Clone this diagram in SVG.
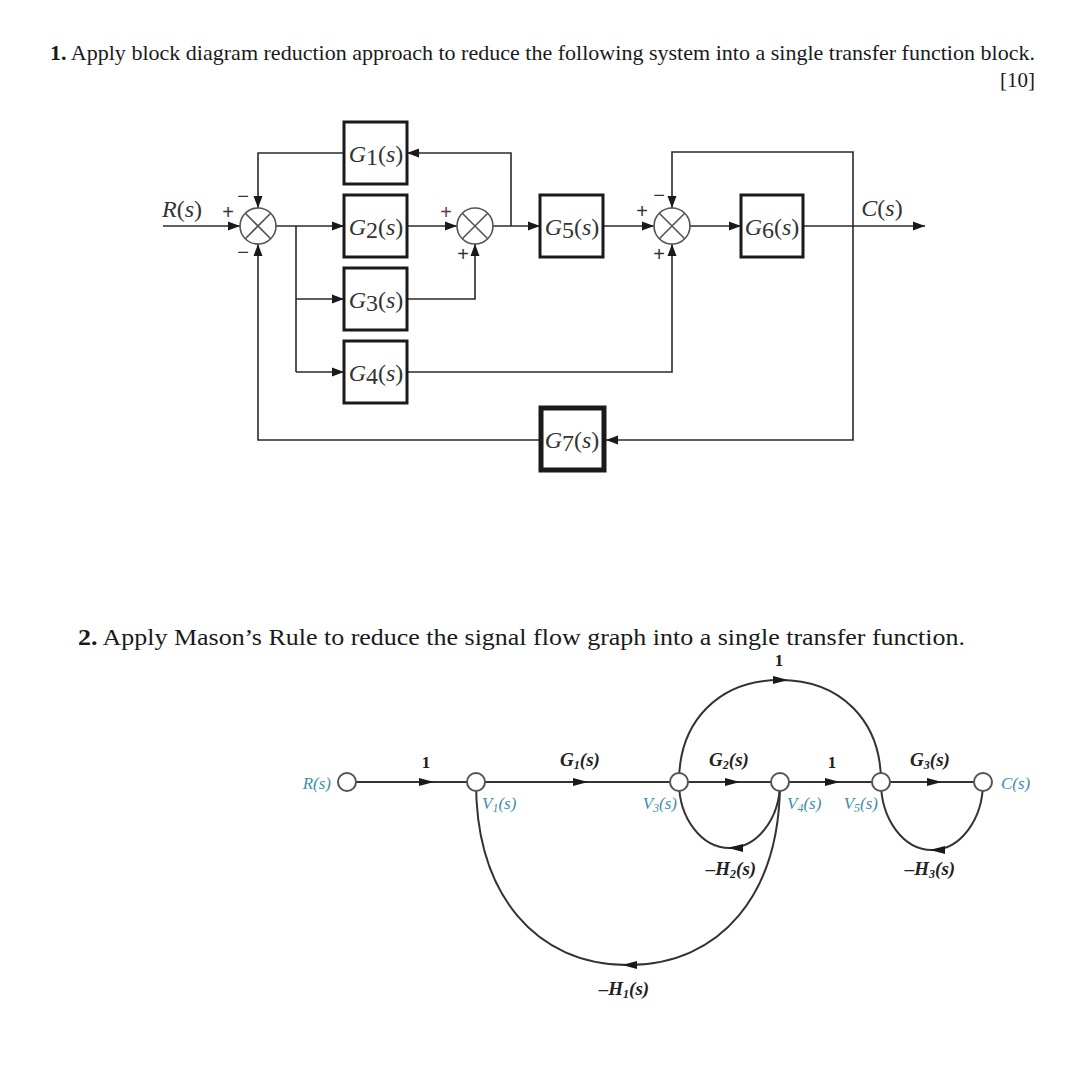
<svg xmlns="http://www.w3.org/2000/svg" xmlns:xlink="http://www.w3.org/1999/xlink" width="1080" height="1080" viewBox="0 0 1080 1080">
<style>
.bg{fill:#fff}
.t{font-family:"Liberation Serif","Times New Roman",serif;fill:#1a1a1a}
.ln{fill:none;stroke:#2a2a2a;stroke-width:1.6}
.box{fill:#fff;stroke:#1a1a1a;stroke-width:3}
.box7{fill:#fff;stroke:#1a1a1a;stroke-width:5}
.sc{fill:#fff;stroke:#555;stroke-width:1.6}
.sx{stroke:#555;stroke-width:1.6}
.bl{font-family:"Liberation Serif","Times New Roman",serif;font-style:italic;font-size:24px;fill:#333;text-anchor:middle}
.up{font-style:normal}
.sg{font-family:"Liberation Sans",Arial,sans-serif;font-size:20px;fill:#333;text-anchor:middle}
.sfg{fill:none;stroke:#333;stroke-width:2}
.nd{fill:#fff;stroke:#555;stroke-width:2}
.lb{font-family:"Liberation Serif","Times New Roman",serif;font-style:italic;font-weight:bold;font-size:19px;fill:#222;text-anchor:middle}
.one{font-family:"Liberation Serif","Times New Roman",serif;font-weight:bold;font-size:17px;fill:#222;text-anchor:middle}
.tl{font-family:"Liberation Serif","Times New Roman",serif;font-style:italic;font-size:17px;fill:#3f8faa}
.ah{fill:#1a1a1a}
</style>
<defs>
<path id="a" d="M0,0 L-12,-4.5 L-12,4.5 Z"/>
<path id="b" d="M0,0 L-15,-4 L-15,4 Z"/>
</defs>
<rect class="bg" x="0" y="0" width="1080" height="1080"/>

<g id="titles">
<text class="t" x="50" y="60" font-size="22" textLength="985" lengthAdjust="spacingAndGlyphs"><tspan font-weight="bold">1.</tspan> Apply block diagram reduction approach to reduce the following system into a single transfer function block.</text>
<text class="t" x="1035" y="87" font-size="21" text-anchor="end">[10]</text>
<text class="t" x="78" y="645" font-size="24" textLength="887" lengthAdjust="spacingAndGlyphs"><tspan font-weight="bold">2.</tspan> Apply Mason’s Rule to reduce the signal flow graph into a single transfer function.</text>
</g>

<!-- ===== Block diagram ===== -->
<g id="bd-connectors">
<path class="ln" d="M163,226 H240"/>
<path class="ln" d="M276,226 H344"/>
<path class="ln" d="M296,226 V372 M296,299 H344 M296,372 H344"/>
<path class="ln" d="M407,226 H457"/>
<path class="ln" d="M407,299 H475 V244"/>
<path class="ln" d="M493,226 H540"/>
<path class="ln" d="M511,226 V153 H407"/>
<path class="ln" d="M344,153 H258 V208"/>
<path class="ln" d="M603,226 H654"/>
<path class="ln" d="M407,372 H672 V244"/>
<path class="ln" d="M690,226 H741"/>
<path class="ln" d="M803,226 H925"/>
<path class="ln" d="M853,226 V152 H672 V208"/>
<path class="ln" d="M853,226 V440 H606"/>
<path class="ln" d="M541,440 H258 V244"/>
<g class="ah">
<use xlink:href="#a" href="#a" transform="translate(240,226)"/>
<use xlink:href="#a" href="#a" transform="translate(344,226)"/>
<use xlink:href="#a" href="#a" transform="translate(344,299)"/>
<use xlink:href="#a" href="#a" transform="translate(344,372)"/>
<use xlink:href="#a" href="#a" transform="translate(457,226)"/>
<use xlink:href="#a" href="#a" transform="translate(475,244) rotate(-90)"/>
<use xlink:href="#a" href="#a" transform="translate(540,226)"/>
<use xlink:href="#a" href="#a" transform="translate(407,153) rotate(180)"/>
<use xlink:href="#a" href="#a" transform="translate(258,208) rotate(90)"/>
<use xlink:href="#a" href="#a" transform="translate(654,226)"/>
<use xlink:href="#a" href="#a" transform="translate(672,244) rotate(-90)"/>
<use xlink:href="#a" href="#a" transform="translate(741,226)"/>
<use xlink:href="#a" href="#a" transform="translate(925,226)"/>
<use xlink:href="#a" href="#a" transform="translate(672,208) rotate(90)"/>
<use xlink:href="#a" href="#a" transform="translate(606,440) rotate(180)"/>
<use xlink:href="#a" href="#a" transform="translate(258,244) rotate(-90)"/>
</g>
</g>

<g id="sum1">
<circle class="sc" cx="258" cy="226" r="18"/>
<path class="sx" d="M245.3,213.3 L270.7,238.7 M270.7,213.3 L245.3,238.7"/>
<text class="sg" x="228" y="219">+</text>
<text class="sg" x="243" y="203">−</text>
<text class="sg" x="243" y="259">−</text>
</g>
<g id="sum2">
<circle class="sc" cx="475" cy="226" r="18"/>
<path class="sx" d="M462.3,213.3 L487.7,238.7 M487.7,213.3 L462.3,238.7"/>
<text class="sg" x="446" y="219" style="fill:#6a3060">+</text>
<text class="sg" x="463" y="261">+</text>
</g>
<g id="sum3">
<circle class="sc" cx="672" cy="226" r="18"/>
<path class="sx" d="M659.3,213.3 L684.7,238.7 M684.7,213.3 L659.3,238.7"/>
<text class="sg" x="642" y="218">+</text>
<text class="sg" x="659" y="202">−</text>
<text class="sg" x="659" y="261">+</text>
</g>

<g id="G1"><rect class="box" x="344" y="122" width="63" height="62"/><text class="bl" x="376" y="162">G<tspan class="up" dy="3">1</tspan><tspan class="up" dy="-3">(</tspan>s<tspan class="up">)</tspan></text></g>
<g id="G2"><rect class="box" x="344" y="195" width="63" height="62"/><text class="bl" x="376" y="235">G<tspan class="up" dy="3">2</tspan><tspan class="up" dy="-3">(</tspan>s<tspan class="up">)</tspan></text></g>
<g id="G3"><rect class="box" x="344" y="268" width="63" height="62"/><text class="bl" x="376" y="308">G<tspan class="up" dy="3">3</tspan><tspan class="up" dy="-3">(</tspan>s<tspan class="up">)</tspan></text></g>
<g id="G4"><rect class="box" x="344" y="341" width="63" height="62"/><text class="bl" x="376" y="381">G<tspan class="up" dy="3">4</tspan><tspan class="up" dy="-3">(</tspan>s<tspan class="up">)</tspan></text></g>
<g id="G5"><rect class="box" x="540" y="195" width="63" height="62"/><text class="bl" x="572" y="235">G<tspan class="up" dy="3">5</tspan><tspan class="up" dy="-3">(</tspan>s<tspan class="up">)</tspan></text></g>
<g id="G6"><rect class="box" x="741" y="195" width="62" height="62"/><text class="bl" x="772" y="235">G<tspan class="up" dy="3">6</tspan><tspan class="up" dy="-3">(</tspan>s<tspan class="up">)</tspan></text></g>
<g id="G7"><rect class="box7" x="541" y="408" width="63" height="62"/><text class="bl" x="572" y="448">G<tspan class="up" dy="3">7</tspan><tspan class="up" dy="-3">(</tspan>s<tspan class="up">)</tspan></text></g>

<g id="bd-labels">
<text class="bl" x="182" y="217">R<tspan class="up">(</tspan>s<tspan class="up">)</tspan></text>
<text class="bl" x="882" y="216">C<tspan class="up">(</tspan>s<tspan class="up">)</tspan></text>
</g>

<!-- ===== Signal flow graph ===== -->
<g id="sfg-connectors">
<path class="sfg" d="M356,782 H467"/>
<path class="sfg" d="M485,782 H670"/>
<path class="sfg" d="M688,782 H771"/>
<path class="sfg" d="M789,782 H872"/>
<path class="sfg" d="M890,782 H974"/>
<path class="sfg" d="M679,782 C679,720 720,680 780,680 C840,680 881,720 881,782"/>
<path class="sfg" d="M780,782 A50.5,66 0 0 1 679,782"/>
<path class="sfg" d="M983,782 A51,68 0 0 1 881,782"/>
<path class="sfg" d="M780,782 C780,895 720,965 628,965 C536,965 476,895 476,782"/>
<g class="ah">
<use xlink:href="#b" href="#b" transform="translate(434,782)"/>
<use xlink:href="#b" href="#b" transform="translate(588,782)"/>
<use xlink:href="#b" href="#b" transform="translate(740,782)"/>
<use xlink:href="#b" href="#b" transform="translate(840,782)"/>
<use xlink:href="#b" href="#b" transform="translate(942,782)"/>
<use xlink:href="#b" href="#b" transform="translate(788,680)"/>
<use xlink:href="#b" href="#b" transform="translate(728,848) rotate(180)"/>
<use xlink:href="#b" href="#b" transform="translate(930,850) rotate(180)"/>
<use xlink:href="#b" href="#b" transform="translate(622,965) rotate(180)"/>
</g>
</g>

<g id="nR"><circle class="nd" cx="347" cy="782" r="9"/><text class="tl" x="331" y="789" text-anchor="end">R(s)</text></g>
<g id="nV1"><circle class="nd" cx="476" cy="782" r="9"/><text class="tl" x="482" y="809">V<tspan font-size="12" dy="3">1</tspan><tspan dy="-3">(s)</tspan></text></g>
<g id="nV3"><circle class="nd" cx="679" cy="782" r="9"/><text class="tl" x="677" y="809" text-anchor="end">V<tspan font-size="12" dy="3">3</tspan><tspan dy="-3">(s)</tspan></text></g>
<g id="nV4"><circle class="nd" cx="780" cy="782" r="9"/><text class="tl" x="787" y="809">V<tspan font-size="12" dy="3">4</tspan><tspan dy="-3">(s)</tspan></text></g>
<g id="nV5"><circle class="nd" cx="881" cy="782" r="9"/><text class="tl" x="878" y="809" text-anchor="end">V<tspan font-size="12" dy="3">5</tspan><tspan dy="-3">(s)</tspan></text></g>
<g id="nC"><circle class="nd" cx="983" cy="782" r="9"/><text class="tl" x="1001" y="789">C(s)</text></g>

<g id="sfg-labels">
<text class="one" x="426" y="768">1</text>
<text class="lb" x="580" y="766">G<tspan font-size="12" dy="3">1</tspan><tspan dy="-3">(s)</tspan></text>
<text class="lb" x="729" y="766">G<tspan font-size="12" dy="3">2</tspan><tspan dy="-3">(s)</tspan></text>
<text class="one" x="832" y="768">1</text>
<text class="lb" x="930" y="766">G<tspan font-size="12" dy="3">3</tspan><tspan dy="-3">(s)</tspan></text>
<text class="one" x="779" y="666">1</text>
<text class="lb" x="731" y="875">–H<tspan font-size="12" dy="3">2</tspan><tspan dy="-3">(s)</tspan></text>
<text class="lb" x="930" y="875">–H<tspan font-size="12" dy="3">3</tspan><tspan dy="-3">(s)</tspan></text>
<text class="lb" x="624" y="995">–H<tspan font-size="12" dy="3">1</tspan><tspan dy="-3">(s)</tspan></text>
</g>
</svg>
